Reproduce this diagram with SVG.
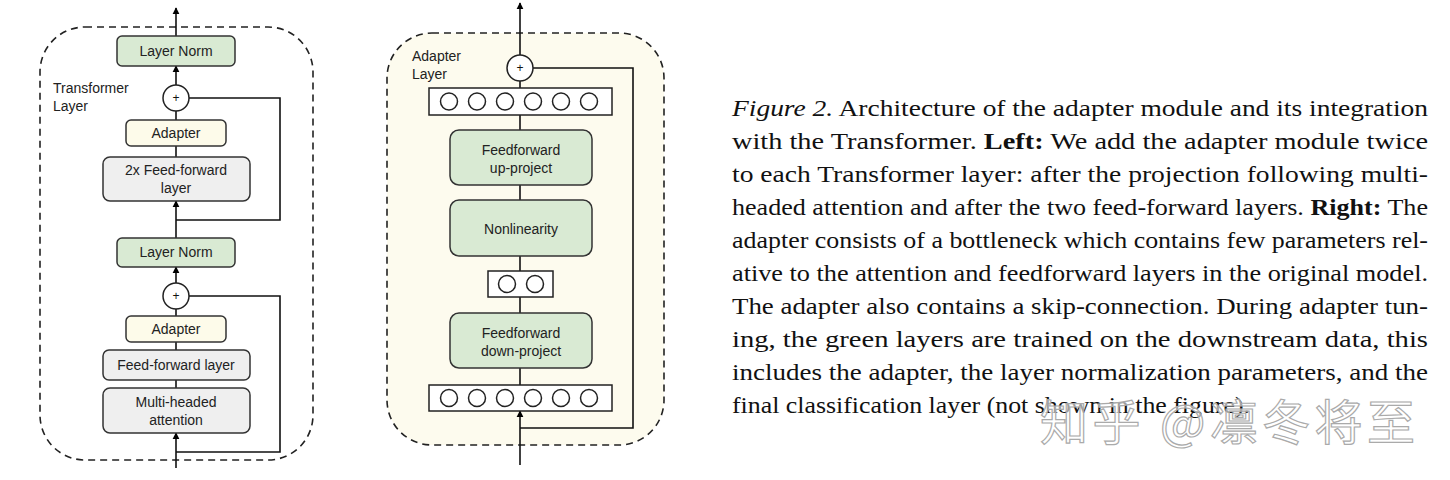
<svg xmlns="http://www.w3.org/2000/svg" width="1450" height="480" viewBox="0 0 1450 480">
<defs>
<marker id="ah" viewBox="0 0 10 10" refX="9" refY="5" markerWidth="7" markerHeight="9" markerUnits="userSpaceOnUse" orient="auto"><path d="M0,0 L10,5 L0,10 z" fill="#000"/></marker>
<style>
.dash{fill:none;stroke:#222;stroke-width:1.6;stroke-dasharray:7,5}
.g{fill:#d9ead3;stroke:#333;stroke-width:1.5}
.y{fill:#fdfbea;stroke:#333;stroke-width:1.5}
.gr{fill:#efefef;stroke:#333;stroke-width:1.5}
.w{fill:#fff;stroke:#222;stroke-width:1.5}
.ln{fill:none;stroke:#111;stroke-width:1.6}
.t{font-family:"Liberation Sans",Arial,sans-serif;font-size:14px;fill:#222;text-anchor:middle}
.lab{font-family:"Liberation Sans",Arial,sans-serif;font-size:14px;fill:#222}
.p{font-family:"Liberation Sans",Arial,sans-serif;font-size:12px;fill:#111;text-anchor:middle}
.c{font-family:"Liberation Serif","Times New Roman",serif;font-size:23.5px;fill:#111}
</style>
</defs>
<rect width="1450" height="480" fill="#fff"/>
<g id="transformer-frame"><rect x="40" y="27" width="273" height="433" rx="45" class="dash"/>
<text class="lab" x="53" y="93">Transformer</text><text class="lab" x="53" y="111">Layer</text></g>
<g id="adapter-frame"><rect x="387" y="33" width="277" height="412" rx="45" class="dash" style="fill:#fdfbee"/>
<text class="lab" x="412" y="61">Adapter</text><text class="lab" x="412" y="79">Layer</text></g>
<g id="connectors">
<path class="ln" d="M176,36 V8" marker-end="url(#ah)"/>
<path class="ln" d="M176,85 V66" marker-end="url(#ah)"/>
<path class="ln" d="M176,120 V111"/>
<path class="ln" d="M176,157 V146"/>
<path class="ln" d="M176,238 V201" marker-end="url(#ah)"/>
<path class="ln" d="M189,98 H280 V220 H176"/>
<path class="ln" d="M176,283 V267" marker-end="url(#ah)"/>
<path class="ln" d="M176,316 V309"/>
<path class="ln" d="M176,350 V342"/>
<path class="ln" d="M176,388 V380"/>
<path class="ln" d="M176,468 V433" marker-end="url(#ah)"/>
<path class="ln" d="M189,296 H280 V452 H176"/>
<path class="ln" d="M520,55 V3" marker-end="url(#ah)"/>
<path class="ln" d="M520,88 V81"/>
<path class="ln" d="M520,130 V115"/>
<path class="ln" d="M520,200 V185"/>
<path class="ln" d="M520,271 V256"/>
<path class="ln" d="M520,313 V297"/>
<path class="ln" d="M520,385 V368"/>
<path class="ln" d="M520,465 V411" marker-end="url(#ah)"/>
<path class="ln" d="M533,68 H633 V428 H520"/>
</g>
<g id="ln1"><rect x="117" y="36" width="118" height="30" rx="5" class="g"/><text class="t" x="176" y="56">Layer Norm</text></g>
<g id="plus1"><circle cx="176" cy="98" r="13" class="w"/><text class="p" x="176" y="102">+</text></g>
<g id="adapter1"><rect x="126" y="120" width="100" height="26" rx="5" class="y"/><text class="t" x="176" y="138">Adapter</text></g>
<g id="ff2x"><rect x="103" y="157" width="147" height="44" rx="7" class="gr"/><text class="t" x="176" y="175">2x Feed-forward</text><text class="t" x="176" y="193">layer</text></g>
<g id="ln2"><rect x="117" y="238" width="118" height="29" rx="5" class="g"/><text class="t" x="176" y="257">Layer Norm</text></g>
<g id="plus2"><circle cx="176" cy="296" r="13" class="w"/><text class="p" x="176" y="300">+</text></g>
<g id="adapter2"><rect x="126" y="316" width="100" height="26" rx="5" class="y"/><text class="t" x="176" y="334">Adapter</text></g>
<g id="ff1"><rect x="103" y="350" width="147" height="30" rx="6" class="gr"/><text class="t" x="176" y="370">Feed-forward layer</text></g>
<g id="mha"><rect x="103" y="388" width="147" height="45" rx="7" class="gr"/><text class="t" x="176" y="407">Multi-headed</text><text class="t" x="176" y="425">attention</text></g>
<g id="plus3"><circle cx="520" cy="68" r="13" class="w"/><text class="p" x="520" y="72">+</text></g>
<g id="row-top"><rect x="429" y="88" width="183" height="27" class="w"/>
<g class="w"><circle cx="449" cy="101.5" r="8.5"/><circle cx="477" cy="101.5" r="8.5"/><circle cx="505" cy="101.5" r="8.5"/><circle cx="533" cy="101.5" r="8.5"/><circle cx="561" cy="101.5" r="8.5"/><circle cx="589" cy="101.5" r="8.5"/></g></g>
<g id="ffup"><rect x="450" y="130" width="142" height="55" rx="9" class="g"/><text class="t" x="521" y="155">Feedforward</text><text class="t" x="521" y="173">up-project</text></g>
<g id="nonlin"><rect x="450" y="200" width="142" height="56" rx="9" class="g"/><text class="t" x="521" y="234">Nonlinearity</text></g>
<g id="row-mid"><rect x="488" y="271" width="65" height="26" class="w"/>
<g class="w"><circle cx="507" cy="284" r="8.5"/><circle cx="535" cy="284" r="8.5"/></g></g>
<g id="ffdown"><rect x="450" y="313" width="142" height="55" rx="9" class="g"/><text class="t" x="521" y="338">Feedforward</text><text class="t" x="521" y="356">down-project</text></g>
<g id="row-bot"><rect x="429" y="385" width="183" height="26" class="w"/>
<g class="w"><circle cx="449" cy="398" r="8.5"/><circle cx="477" cy="398" r="8.5"/><circle cx="505" cy="398" r="8.5"/><circle cx="533" cy="398" r="8.5"/><circle cx="561" cy="398" r="8.5"/><circle cx="589" cy="398" r="8.5"/></g></g>
<g id="caption" class="c">
<text x="732" y="116" textLength="696" lengthAdjust="spacingAndGlyphs"><tspan font-style="italic">Figure 2.</tspan> Architecture of the adapter module and its integration</text>
<text x="732" y="149" textLength="696" lengthAdjust="spacingAndGlyphs">with the Transformer.  <tspan font-weight="bold">Left:</tspan> We add the adapter module twice</text>
<text x="732" y="182" textLength="696" lengthAdjust="spacingAndGlyphs">to each Transformer layer:  after the projection following multi-</text>
<text x="732" y="215" textLength="696" lengthAdjust="spacingAndGlyphs">headed attention and after the two feed-forward layers. <tspan font-weight="bold">Right:</tspan> The</text>
<text x="732" y="248" textLength="696" lengthAdjust="spacingAndGlyphs">adapter consists of a bottleneck which contains few parameters rel-</text>
<text x="732" y="281" textLength="696" lengthAdjust="spacingAndGlyphs">ative to the attention and feedforward layers in the original model.</text>
<text x="732" y="314" textLength="696" lengthAdjust="spacingAndGlyphs">The adapter also contains a skip-connection. During adapter tun-</text>
<text x="732" y="347" textLength="696" lengthAdjust="spacingAndGlyphs">ing, the green layers are trained on the downstream data, this</text>
<text x="732" y="380" textLength="696" lengthAdjust="spacingAndGlyphs">includes the adapter, the layer normalization parameters, and the</text>
<text x="732" y="413" textLength="518" lengthAdjust="spacingAndGlyphs">final classification layer (not shown in the figure).</text>
</g>
<g id="watermark"><text x="1040" y="440" textLength="375" font-family="'Noto Sans CJK SC',sans-serif" font-size="48" fill="#ffffff" fill-opacity="0.6" stroke="#aaa" stroke-width="1.2">知乎 @凛冬将至</text></g>
</svg>
